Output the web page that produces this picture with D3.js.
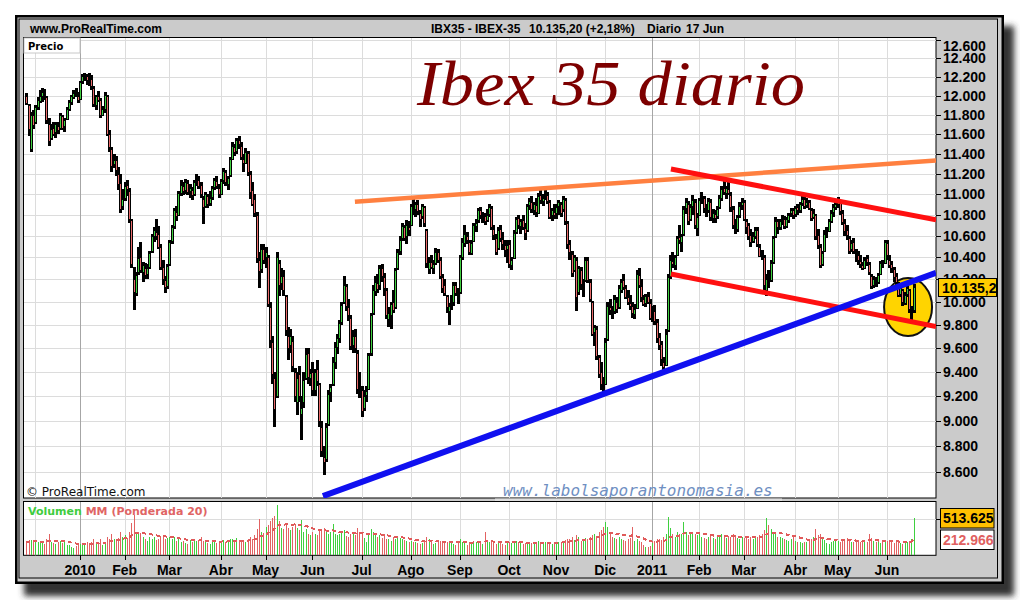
<!DOCTYPE html>
<html><head><meta charset="utf-8">
<script src="https://cdn.jsdelivr.net/npm/d3@7"></script>
<style>body{margin:0;background:#fff}svg{display:block}</style>
</head><body>
<script>
// ---------- DATA ----------
const holidays = ["2009-12-24","2009-12-25","2009-12-31","2010-01-01","2010-04-02","2010-04-05","2010-12-24","2010-12-31","2011-04-22","2011-04-25"];
const firstDay = [2009, 10, 25], lastDay = [2011, 5, 17];
const monthNames = ["Ene","Feb","Mar","Abr","May","Jun","Jul","Ago","Sep","Oct","Nov","Dic"];
const priceTicks = [12600,12400,12200,12000,11800,11600,11400,11200,11000,10800,10600,10400,10200,10000,9800,9600,9400,9200,9000,8800,8600];
// [open, high, low, close, volume]
const nov2009 = [[11990,12030,11900,11920,180],[11900,11910,11580,11650,200],[11450,11830,11420,11800,210],[11800,11850,11650,11700,190]];
const dec2009 = [[11720,11900,11700,11880,200],[11880,11980,11850,11950,190],[11950,12060,11920,12000,170],[12000,12080,11930,12040,180],[12020,12070,11950,11990,160],[11980,11990,11700,11740,230],[11700,11760,11480,11530,300],[11560,11700,11540,11650,190],[11660,11720,11580,11600,170],[11620,11720,11560,11700,160],[11680,11720,11600,11640,180],[11660,11820,11640,11800,200],[11780,11800,11640,11660,170],[11680,11760,11620,11740,210],[11760,11880,11740,11860,150],[11860,11950,11840,11930,140],[11930,12010,11900,11990,120],[11990,12060,11960,12030,100],[12030,12080,11980,12010,130],[12000,12040,11920,11960,140]];
const jan2010 = [[11960,12160,11950,12145,160],[12150,12230,12120,12204,170],[12200,12245,12150,12222,150],[12210,12230,12110,12166,180],[12170,12240,12100,12165,170],[12180,12220,12060,12104,190],[12080,12100,11880,11914,230],[11900,12010,11850,11993,180],[12000,12050,11930,11958,170],[11950,11970,11760,11794,220],[11800,11890,11780,11860,140],[11860,12040,11820,12010,170],[12000,12010,11580,11606,260],[11600,11640,11420,11470,230],[11450,11470,11220,11279,300],[11290,11400,11250,11330,220],[11330,11380,11180,11230,200],[11200,11260,11040,11100,240],[11110,11200,10820,10854,330],[10880,11050,10840,10947,260]];
const feb2010 = [[10960,11120,10930,11080,280],[11090,11140,10980,11050,240],[11030,11060,10720,10760,330],[10750,10760,10300,10340,450],[10200,10310,9930,10080,560],[10080,10270,10050,10240,330],[10260,10500,10240,10390,300],[10400,10540,10260,10280,310],[10270,10360,10180,10330,250],[10300,10350,10200,10240,220],[10250,10340,10200,10300,200],[10310,10460,10290,10440,260],[10460,10620,10440,10600,230],[10590,10680,10540,10650,250],[10640,10760,10560,10600,210],[10620,10690,10480,10500,230],[10500,10520,10280,10320,270],[10310,10380,10150,10200,260],[10190,10230,10080,10130,230],[10140,10340,10110,10320,240]];
const mar2010 = [[10340,10560,10320,10540,260],[10550,10700,10520,10680,230],[10690,10860,10660,10840,250],[10830,10880,10740,10790,200],[10800,11030,10790,11010,220],[11010,11140,10980,11090,190],[11080,11120,10990,11030,200],[11040,11150,11000,11120,170],[11110,11140,10990,11020,160],[11030,11100,10960,11060,210],[11040,11070,10940,10990,180],[11000,11140,10980,11120,230],[11130,11200,11080,11150,200],[11140,11180,11050,11080,180],[11090,11120,10960,11000,260],[10950,10980,10710,10870,200],[10880,11020,10860,11000,190],[10980,11000,10860,10900,170],[10910,11030,10880,10960,160],[10970,11080,10940,11060,210],[11070,11160,11040,11140,180],[11130,11180,11050,11080,170],[11060,11100,10960,11000,190]];
const apr2010 = [[11000,11150,10990,11130,190],[11140,11250,11100,11230,210],[11220,11240,11080,11120,180],[11100,11180,11040,11160,200],[11180,11360,11170,11340,220],[11350,11520,11330,11480,230],[11470,11500,11380,11420,200],[11430,11560,11400,11540,240],[11540,11580,11450,11500,210],[11480,11520,11330,11370,200],[11340,11400,11220,11300,180],[11310,11460,11290,11420,190],[11410,11430,11180,11220,220],[11200,11230,10950,11020,250],[11040,11120,10880,10900,230],[10950,11000,10780,10820,280],[10800,10830,10350,10400,370],[10380,10450,10120,10280,510],[10300,10520,10260,10480,320],[10480,10520,10340,10380,310]];
const may2010 = [[10400,10500,10300,10450,400],[10400,10420,9950,9980,420],[9950,10000,9600,9660,470],[9650,9700,9300,9380,520],[9350,9400,8950,9100,540],[9200,10450,9180,10400,700],[10350,10380,10050,10150,480],[10170,10300,10100,10230,380],[10230,10280,10050,10100,360],[10050,10060,9700,9750,420],[9700,9780,9500,9600,380],[9620,9760,9560,9700,350],[9660,9700,9400,9450,400],[9400,9430,9150,9200,430],[9150,9400,9050,9350,380],[9380,9450,9150,9200,350],[9050,9200,8850,9100,490],[9150,9400,9100,9330,330],[9350,9600,9330,9550,360],[9560,9600,9300,9360,300],[9350,9420,9280,9390,280]];
const jun2010 = [[9400,9480,9200,9250,320],[9250,9420,9200,9400,300],[9420,9500,9280,9320,280],[9300,9310,8950,9000,360],[8950,9000,8720,8760,340],[8720,8800,8580,8680,380],[8700,8980,8680,8950,350],[8980,9250,8960,9220,300],[9230,9300,9150,9270,330],[9300,9520,9280,9480,430],[9480,9650,9420,9610,290],[9600,9720,9550,9680,280],[9680,9840,9640,9810,300],[9820,10000,9800,9970,310],[10000,10230,9980,10150,350],[10140,10160,9920,9960,270],[9950,10020,9830,9880,260],[9860,9880,9580,9620,300],[9620,9750,9560,9700,310],[9700,9760,9560,9600,280],[9560,9580,9220,9260,380],[9280,9400,9180,9260,330]];
const jul2010 = [[9250,9280,9030,9080,300],[9100,9250,9080,9200,240],[9210,9280,9150,9240,190],[9260,9560,9250,9540,280],[9550,9900,9530,9880,360],[9900,10150,9880,10100,320],[10100,10230,10050,10180,300],[10170,10250,10080,10120,260],[10150,10330,10100,10300,280],[10300,10340,10180,10230,240],[10220,10260,10050,10120,290],[10100,10120,9850,9880,220],[9850,9950,9780,9900,230],[9880,10000,9760,9980,200],[10000,10100,9900,9930,250],[9950,10300,9940,10280,230],[10300,10480,10280,10450,260],[10460,10600,10420,10560,240],[10580,10720,10550,10690,220],[10680,10700,10550,10580,210],[10600,10750,10520,10700,200],[10680,10740,10600,10650,190]];
const aug2010 = [[10700,10900,10690,10880,200],[10870,10950,10800,10850,190],[10850,10920,10780,10900,180],[10900,10940,10800,10830,170],[10820,10840,10680,10760,160],[10780,10900,10760,10880,170],[10870,10880,10680,10720,210],[10650,10660,10300,10340,260],[10300,10400,10250,10360,220],[10360,10420,10290,10310,190],[10300,10380,10250,10340,160],[10350,10490,10330,10450,170],[10450,10480,10350,10380,180],[10380,10400,10200,10230,200],[10220,10250,10080,10120,190],[10150,10200,10050,10080,170],[10050,10060,9900,9950,190],[9920,9990,9800,9960,180],[9980,10060,9930,10000,170],[10000,10180,9960,10150,160],[10150,10180,10050,10080,150],[10060,10120,9980,10050,180]];
const sep2010 = [[10080,10420,10070,10400,230],[10400,10580,10380,10540,190],[10540,10700,10500,10620,170],[10600,10640,10520,10560,140],[10540,10560,10420,10450,180],[10440,10560,10420,10530,170],[10550,10720,10540,10700,200],[10690,10760,10640,10720,190],[10740,10860,10720,10840,180],[10840,10870,10760,10790,170],[10780,10830,10720,10800,160],[10790,10820,10700,10740,330],[10750,10850,10730,10800,200],[10800,10900,10780,10870,180],[10860,10880,10650,10680,190],[10660,10700,10560,10600,170],[10580,10620,10420,10450,160],[10480,10680,10470,10650,180],[10660,10700,10540,10580,170],[10570,10640,10470,10520,160],[10510,10560,10400,10460,150],[10470,10560,10350,10510,200]];
const oct2010 = [[10520,10560,10300,10340,180],[10330,10400,10280,10380,170],[10400,10650,10390,10630,190],[10640,10780,10620,10760,200],[10770,10800,10660,10700,180],[10690,10760,10620,10740,170],[10750,10800,10650,10680,160],[10670,10720,10560,10620,170],[10650,10900,10640,10880,190],[10890,10960,10840,10930,180],[10920,10980,10820,10850,170],[10840,10920,10800,10900,160],[10890,10960,10780,10820,180],[10820,11010,10810,10980,200],[10990,11040,10900,10940,170],[10930,11000,10880,10960,160],[10980,11050,10940,11000,190],[10990,11020,10900,10930,180],[10920,10940,10760,10780,170],[10790,10860,10740,10840,160],[10830,10900,10760,10800,180]];
const nov2010 = [[10810,10900,10760,10870,180],[10880,10940,10800,10920,190],[10900,10920,10780,10810,170],[10850,10980,10830,10950,200],[10940,10960,10700,10740,210],[10720,10740,10480,10520,230],[10520,10560,10380,10450,220],[10430,10460,10220,10260,250],[10280,10420,10270,10400,210],[10380,10400,9920,10050,280],[10080,10320,10060,10300,250],[10280,10310,10100,10150,200],[10150,10200,10040,10170,220],[10200,10400,10180,10380,240],[10380,10400,10170,10200,230],[10180,10200,10000,10030,260],[10000,10010,9700,9720,280],[9740,9800,9620,9780,300],[9760,9790,9500,9530,270],[9520,9540,9350,9380,320],[9400,9480,9250,9300,350],[9280,9360,9200,9270,390]];
const dec2010 = [[9300,9680,9290,9650,460],[9670,10000,9660,9960,400],[9950,10020,9880,9920,300],[9900,9960,9850,9890,250],[9910,10060,9890,10020,240],[10000,10040,9900,9940,220],[9950,10150,9940,10120,260],[10110,10200,10080,10180,230],[10190,10250,10100,10130,210],[10120,10150,10020,10040,200],[10040,10100,9970,10000,220],[9990,10060,9930,9960,240],[9960,10000,9860,9900,390],[9900,9980,9850,9940,200],[9950,10280,9940,10250,230],[10240,10300,10120,10150,200],[10140,10200,10000,10040,180],[10020,10060,9960,9980,150],[9990,10070,9950,10050,120],[10050,10090,9980,10000,110],[9990,10020,9840,9860,130]];
const jan2011 = [[9880,9960,9820,9900,180],[9920,9970,9800,9830,200],[9820,9850,9640,9680,220],[9690,9730,9580,9620,230],[9630,9660,9450,9500,210],[9480,9520,9380,9440,260],[9460,9760,9450,9720,300],[9750,10250,9740,10220,530],[10230,10420,10200,10380,380],[10370,10450,10300,10340,300],[10330,10420,10280,10400,260],[10420,10600,10410,10580,320],[10590,10700,10520,10560,280],[10540,10620,10450,10600,300],[10610,10880,10600,10850,460],[10860,10960,10810,10920,330],[10900,10930,10700,10740,280],[10760,10900,10740,10870,300],[10880,10990,10800,10940,310],[10920,10950,10660,10700,290],[10680,10820,10600,10780,280]];
const feb2011 = [[10800,10960,10790,10940,290],[10950,11020,10900,10970,260],[10960,10980,10820,10860,240],[10850,10900,10780,10830,230],[10840,10960,10820,10930,250],[10920,10950,10740,10780,270],[10770,10850,10720,10820,240],[10810,10840,10720,10770,230],[10780,10880,10760,10850,260],[10870,10990,10850,10960,280],[10960,11080,10930,11050,300],[11060,11140,10990,11020,250],[11010,11080,10950,11060,240],[11050,11120,10990,11010,270],[10990,11020,10830,10870,260],[10850,10880,10660,10700,300],[10700,10760,10620,10680,280],[10670,10800,10640,10780,240],[10790,10920,10770,10880,220],[10890,10960,10840,10920,260]];
const mar2011 = [[10920,10940,10740,10760,240],[10740,10760,10620,10680,250],[10700,10720,10560,10600,230],[10610,10660,10500,10540,260],[10550,10640,10530,10600,220],[10590,10680,10570,10650,240],[10650,10680,10500,10520,260],[10500,10520,10400,10420,280],[10440,10470,10380,10420,300],[10400,10420,10100,10150,350],[10100,10250,10050,10200,520],[10200,10280,10120,10180,420],[10200,10380,10180,10350,360],[10360,10600,10340,10580,330],[10600,10780,10580,10740,300],[10740,10760,10620,10680,260],[10680,10760,10650,10740,250],[10740,10800,10700,10760,240],[10760,10790,10660,10690,220],[10690,10780,10670,10760,210],[10750,10820,10720,10800,200],[10810,10860,10780,10840,230],[10840,10860,10760,10790,250]];
const apr2011 = [[10800,10880,10780,10860,200],[10870,10900,10800,10840,180],[10840,10920,10820,10900,190],[10910,10980,10880,10950,170],[10950,10970,10850,10880,180],[10890,10960,10860,10920,190],[10920,10940,10840,10860,200],[10840,10860,10740,10760,220],[10780,10850,10760,10820,250],[10800,10810,10560,10600,360],[10610,10660,10480,10520,280],[10500,10520,10300,10330,300],[10340,10460,10320,10440,240],[10460,10650,10450,10620,210],[10630,10680,10580,10650,170],[10650,10760,10640,10740,160],[10740,10840,10720,10820,190],[10820,10900,10780,10870,200],[10870,10950,10840,10900,210]];
const may2011 = [[10900,10970,10860,10930,200],[10920,10940,10800,10830,190],[10820,10840,10700,10730,210],[10720,10760,10600,10640,220],[10650,10700,10560,10600,240],[10580,10600,10430,10460,200],[10470,10560,10450,10530,190],[10540,10580,10430,10460,180],[10440,10480,10360,10420,200],[10420,10460,10330,10370,210],[10370,10420,10300,10340,190],[10330,10360,10280,10300,180],[10310,10400,10290,10380,200],[10390,10420,10320,10350,190],[10340,10360,10240,10270,300],[10230,10250,10110,10140,240],[10150,10230,10120,10200,200],[10180,10220,10130,10170,190],[10180,10260,10160,10240,180],[10250,10370,10240,10350,170],[10340,10380,10300,10330,190],[10350,10560,10340,10540,210]];
const jun2011 = [[10530,10560,10380,10420,200],[10380,10420,10300,10330,190],[10340,10370,10260,10300,180],[10290,10310,10180,10220,170],[10230,10260,10140,10180,180],[10160,10180,10040,10060,190],[10070,10150,10040,10120,170],[10100,10110,9960,9990,160],[9990,10090,9970,10060,180],[10070,10150,10040,10120,190],[10100,10110,9900,9930,200],[9920,9960,9820,9920,230],[9930,10160,9900,10135.2,513.625]];
// trend lines drawn on the chart: [candle index, price]
const orangeLine = [[147.0, 10925], [407, 11330]];
const redUpper   = [[288.4, 11245], [407, 10750]];
const redLower   = [[288.4, 10248], [407, 9783]];
const blueLine   = [[132.7, 8421], [407, 10258]];
const highlight  = [394.5, 9953];
const headerLeft = "www.ProRealTime.com";
const headerParts = ["IBX35 - IBEX-35", "10.135,20 (+2,18%)", "Diario", "17 Jun"];
const lastLabel = "10.135,2", volLabel = "513.625", maLabel = "212.966";

// ---------- BUILD ----------
const hol = new Set(holidays);
const days = [];
for (let d = new Date(Date.UTC(...firstDay)); d <= new Date(Date.UTC(...lastDay)); d.setUTCDate(d.getUTCDate() + 1)) {
  const wd = d.getUTCDay(); if (wd === 0 || wd === 6) continue;
  const s = d.toISOString().slice(0, 10); if (hol.has(s)) continue;
  days.push(new Date(d));
}
const months = [nov2009,dec2009,jan2010,feb2010,mar2010,apr2010,may2010,jun2010,jul2010,aug2010,sep2010,oct2010,nov2010,dec2010,jan2011,feb2011,mar2011,apr2011,may2011,jun2011];
const candles = months.flat().map((r, i) => ({i, o:r[0], h:r[1], l:r[2], c:r[3], v:r[4], d:days[i]}));
const vols = candles.map(c => c.v);
const wma = vols.map((v, i) => { let s = 0, w = 0; for (let k = 0; k < 20 && i - k >= 0; k++) { const wt = 20 - k; s += vols[i-k]*wt; w += wt; } return s / w; });

const x = d3.scaleLinear().domain([0, 407]).range([26.36, 936]);
const y = d3.scaleLog().domain([8600, 12000]).range([472.3, 95.5]);
const vy = d3.scaleLinear().domain([0, 500]).range([555.3, 519.3]);

const svg = d3.select('body').append('svg').attr('width', 1020).attr('height', 600);
const defs = svg.append('defs');
defs.append('filter').attr('id','blur').attr('x','-5%').attr('y','-5%').attr('width','110%').attr('height','110%')
  .append('feGaussianBlur').attr('stdDeviation', 3);
defs.append('clipPath').attr('id','clipP').append('rect').attr('x',24).attr('y',38).attr('width',912).attr('height',460);
defs.append('clipPath').attr('id','clipV').append('rect').attr('x',24).attr('y',502).attr('width',912).attr('height',53.3);

// shadow + frame
svg.append('rect').attr('x',24).attr('y',26).attr('width',990).attr('height',570).attr('fill','#333').attr('filter','url(#blur)');
svg.append('rect').attr('x',16.25).attr('y',16.25).attr('width',986.5).attr('height',566.5).attr('fill','#cbcbcb').attr('stroke','#000').attr('stroke-width',2.5);
svg.append('rect').attr('x',19).attr('y',19).attr('width',978.5).attr('height',559).attr('fill','none').attr('stroke','#000').attr('stroke-width',1);

// header
const hf = "'Liberation Sans', Arial, sans-serif";
svg.append('text').attr('x',30).attr('y',33).attr('font-family',hf).attr('font-weight','bold').attr('font-size',12).text(headerLeft);
[[431,0],[529,1],[647,2],[686,3]].forEach(([px,k]) => svg.append('text').attr('x',px).attr('y',33).attr('font-family',hf).attr('font-weight','bold').attr('font-size',12).text(headerParts[k]));

// panels
svg.append('rect').attr('x',23.5).attr('y',37.5).attr('width',912.5).attr('height',460.5).attr('fill','#fff').attr('stroke','#000');
svg.append('rect').attr('x',23.5).attr('y',501.5).attr('width',912.5).attr('height',53.8).attr('fill','#fff').attr('stroke','#000');

// month starts
const monthStarts = [];
candles.forEach((c, i) => { if (i > 0 && c.d && c.d.getUTCMonth() !== candles[i-1].d.getUTCMonth()) monthStarts.push(c); });

// grid price panel
const gP = svg.append('g').attr('clip-path','url(#clipP)').attr('shape-rendering','crispEdges');
gP.selectAll('line.h').data(priceTicks).join('line').attr('x1',24).attr('x2',936)
  .attr('y1',d=>Math.round(y(d))+0.5).attr('y2',d=>Math.round(y(d))+0.5).attr('stroke','#dcdcdc');
gP.selectAll('line.v').data(monthStarts).join('line')
  .attr('x1',d=>Math.round(x(d.i))+0.5).attr('x2',d=>Math.round(x(d.i))+0.5).attr('y1',38).attr('y2',498)
  .attr('stroke',d=>d.d.getUTCMonth()===0?'#a6a6a6':'#dcdcdc');
// grid volume panel
const gV = svg.append('g').attr('clip-path','url(#clipV)').attr('shape-rendering','crispEdges');
gV.append('line').attr('x1',24).attr('x2',936).attr('y1',Math.round(vy(500))+0.5).attr('y2',Math.round(vy(500))+0.5).attr('stroke','#dcdcdc');
gV.selectAll('line.v').data(monthStarts).join('line')
  .attr('x1',d=>Math.round(x(d.i))+0.5).attr('x2',d=>Math.round(x(d.i))+0.5).attr('y1',502).attr('y2',556)
  .attr('stroke',d=>d.d.getUTCMonth()===0?'#a6a6a6':'#dcdcdc');

// "Precio" box
svg.append('rect').attr('x',24).attr('y',38).attr('width',56).attr('height',15).attr('fill','#fff').attr('stroke','#c8c8c8').attr('stroke-width',1);
svg.append('text').attr('x',28).attr('y',50).attr('font-family',"'DejaVu Sans', Verdana, sans-serif").attr('font-weight','bold').attr('font-size',10).text('Precio');

// title
svg.append('text').attr('x',417).attr('y',105).attr('font-family',"'Liberation Serif', 'Times New Roman', serif")
  .attr('font-style','italic').attr('font-size',63).attr('fill','#7d0000').attr('textLength',388).attr('lengthAdjust','spacingAndGlyphs').text('Ibex 35 diario');

// highlight ellipse (under candles)
gP.append('ellipse').attr('cx',x(highlight[0])).attr('cy',y(highlight[1])).attr('rx',24).attr('ry',29)
  .attr('fill','#ffd400').attr('stroke','#111').attr('stroke-width',2).attr('shape-rendering','auto');

// candles
const green = '#3fcf3f', red = '#e86a6a';
const gK = svg.append('g').attr('clip-path','url(#clipP)').attr('shape-rendering','crispEdges');
gK.selectAll('rect.w').data(candles).join('rect')
  .attr('x',d=>Math.round(x(d.i))-1).attr('width',3)
  .attr('y',d=>Math.round(y(d.h))).attr('height',d=>Math.max(1,Math.round(y(d.l))-Math.round(y(d.h))))
  .attr('fill','#000');
gK.selectAll('rect.b').data(candles).join('rect')
  .attr('x',d=>Math.round(x(d.i))-1).attr('width',3)
  .attr('y',d=>Math.round(Math.min(y(d.o),y(d.c)))).attr('height',d=>Math.max(2,Math.round(Math.abs(y(d.o)-y(d.c)))+1))
  .attr('fill','#000');
gK.selectAll('rect.f').data(candles.filter(d=>Math.abs(y(d.o)-y(d.c))>=3)).join('rect')
  .attr('x',d=>Math.round(x(d.i))).attr('width',1)
  .attr('y',d=>Math.round(Math.min(y(d.o),y(d.c)))+1).attr('height',d=>Math.round(Math.abs(y(d.o)-y(d.c)))-1)
  .attr('fill',d=>d.c>=d.o?green:red);

// trend lines
const gL = svg.append('g').attr('clip-path','url(#clipP)');
const lineGen = d3.line().x(d=>x(d[0])).y(d=>y(d[1]));
[[orangeLine,'#ff8040',4.5],[redUpper,'#ff1010',5],[redLower,'#ff1010',5],[blueLine,'#1010f0',6]].forEach(([pts,col,w]) =>
  gL.append('path').attr('d',lineGen(pts)).attr('stroke',col).attr('stroke-width',w).attr('fill','none'));

// bottom texts in price panel
svg.append('rect').attr('x',495).attr('y',498.5).attr('width',287).attr('height',2.5).attr('fill','#dedede');
svg.append('text').attr('x',503).attr('y',496).attr('font-family',"'DejaVu Sans Mono', monospace").attr('font-style','italic')
  .attr('font-size',16).attr('fill','#6f8fc2').text('www.labolsaporantonomasia.es');
svg.append('text').attr('x',26).attr('y',496).attr('font-family',"'DejaVu Sans', Verdana, sans-serif").attr('font-size',12).attr('fill','#111').text('© ProRealTime.com');

// volume bars
gV.selectAll('rect.vb').data(candles).join('rect')
  .attr('x',d=>Math.round(x(d.i))).attr('width',1)
  .attr('y',d=>vy(d.v)).attr('height',d=>vy(0)-vy(d.v))
  .attr('fill',d=>d.c>=d.o?'#3fd03f':'#e26262');
gV.append('path').attr('d',d3.line().x((d,i)=>x(i)).y(d=>vy(d))(wma))
  .attr('fill','none').attr('stroke','#e05a5a').attr('stroke-width',2).attr('stroke-dasharray','4,3');
const vt = svg.append('text').attr('x',28).attr('y',515).attr('font-family',"'DejaVu Sans', Verdana, sans-serif").attr('font-weight','bold').attr('font-size',11);
vt.append('tspan').attr('fill','#3fcc3f').text('Volumen ');
vt.append('tspan').attr('fill','#e06464').text('MM (Ponderada 20)');

// right price axis
const af = "'Liberation Sans', Arial, sans-serif";
svg.selectAll('line.pt').data(priceTicks).join('line').attr('x1',936).attr('x2',941)
  .attr('y1',d=>Math.round(y(d))+0.5).attr('y2',d=>Math.round(y(d))+0.5).attr('stroke','#000').attr('shape-rendering','crispEdges');
svg.selectAll('text.pl').data(priceTicks).join('text').attr('x',943).attr('y',d=>Math.max(y(d),46)+5)
  .attr('font-family',af).attr('font-weight','bold').attr('font-size',14)
  .text(d=>d3.format(',')(d).replace(/,/g,'.'));
const last = candles[candles.length-1];
svg.append('rect').attr('x',938.5).attr('y',Math.round(y(last.c))-8.5).attr('width',58).attr('height',18).attr('fill','#ffcc00').attr('stroke','#000');
svg.append('text').attr('x',942).attr('y',Math.round(y(last.c))+5.5).attr('font-family',af).attr('font-weight','bold').attr('font-size',14).text(lastLabel);

// right volume axis
svg.append('line').attr('x1',936).attr('x2',941).attr('y1',Math.round(vy(500))+0.5).attr('y2',Math.round(vy(500))+0.5).attr('stroke','#000');
const vyl = Math.round(vy(last.v));
svg.append('rect').attr('x',940.5).attr('y',vyl-9.5).attr('width',53.5).attr('height',19.5).attr('fill','#ffc000').attr('stroke','#000');
svg.append('text').attr('x',943).attr('y',vyl+5).attr('font-family',af).attr('font-weight','bold').attr('font-size',14).text(volLabel);
svg.append('rect').attr('x',940.5).attr('y',vyl+12).attr('width',53.5).attr('height',19.5).attr('fill','#fff').attr('stroke','#000');
svg.append('text').attr('x',943).attr('y',vyl+27).attr('font-family',af).attr('font-weight','bold').attr('font-size',14).attr('fill','#e06060').text(maLabel);

// x axis
const labeled = monthStarts.filter(d => d.d.getUTCFullYear() >= 2010);
svg.selectAll('line.xt').data(labeled).join('line')
  .attr('x1',d=>Math.round(x(d.i))+0.5).attr('x2',d=>Math.round(x(d.i))+0.5).attr('y1',555).attr('y2',560).attr('stroke','#000').attr('shape-rendering','crispEdges');
svg.selectAll('text.xl').data(labeled).join('text').attr('x',d=>x(d.i)).attr('y',575).attr('text-anchor','middle')
  .attr('font-family',af).attr('font-weight','bold').attr('font-size',14)
  .text(d=>d.d.getUTCMonth()===0 ? String(d.d.getUTCFullYear()) : monthNames[d.d.getUTCMonth()]);
</script>
</body></html>
